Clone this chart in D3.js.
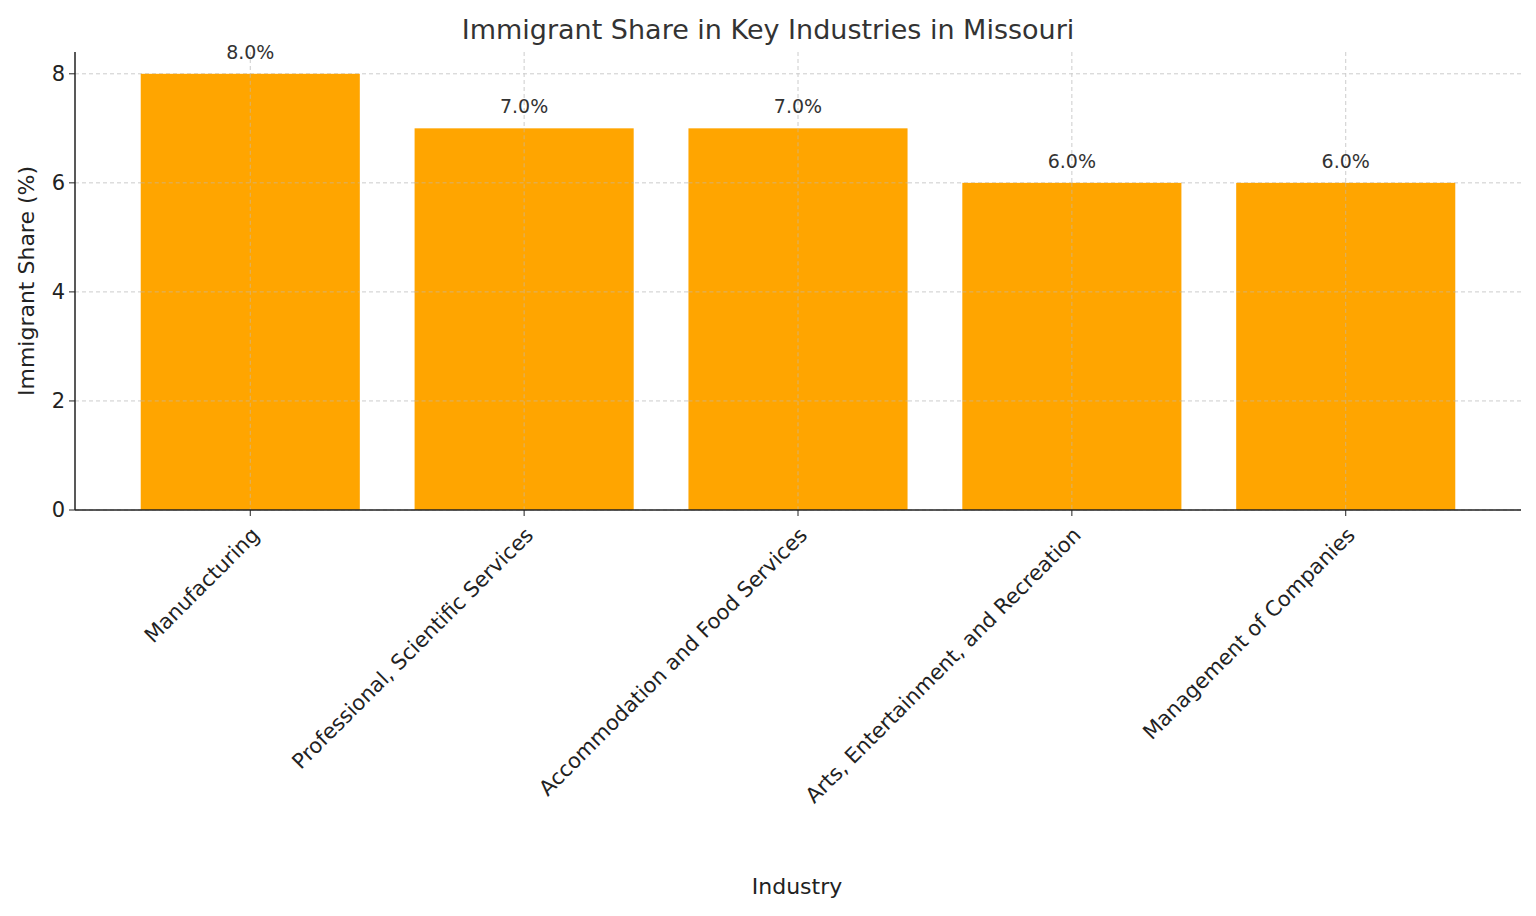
<!DOCTYPE html>
<html><head><meta charset="utf-8">
<script src="https://cdn.jsdelivr.net/npm/d3@7"></script>
<style>body{margin:0;background:#fff}text{font-family:"DejaVu Sans",sans-serif}</style>
</head><body><svg id="c" width="1536" height="916"></svg>
<script>
const categories=["Manufacturing","Professional, Scientific Services","Accommodation and Food Services","Arts, Entertainment, and Recreation","Management of Companies"];
const values=[8,7,7,6,6];
const yTicks=[0,2,4,6,8];
const svg=d3.select("#c");
const L=75,R=1521,T=52,B=510;
const x=d3.scaleLinear().domain([-0.64,4.64]).range([L,R]);
const y=d3.scaleLinear().domain([0,8.4]).range([B,T]);
const bw=x(0.8)-x(0);
const g=svg.append("g");
// grid
yTicks.forEach(t=>g.append("line").attr("x1",L).attr("x2",R).attr("y1",y(t)).attr("y2",y(t)).attr("stroke","#ccc").attr("stroke-dasharray","4,3"));
categories.forEach((c,i)=>g.append("line").attr("x1",x(i)).attr("x2",x(i)).attr("y1",T).attr("y2",B).attr("stroke","#ccc").attr("stroke-dasharray","4,3"));
// bars
g.selectAll("rect.b").data(values).join("rect").attr("x",(d,i)=>x(i)-bw/2).attr("width",bw).attr("y",d=>y(d)).attr("height",d=>B-y(d)).attr("fill","#FFA500");
// grid over bars (matplotlib draws grid above? reference shows grid over bars)
categories.forEach((c,i)=>g.append("line").attr("x1",x(i)).attr("x2",x(i)).attr("y1",y(values[i])).attr("y2",B).attr("stroke","#bbb").attr("stroke-opacity",0.6).attr("stroke-dasharray","4,3"));
yTicks.forEach(t=>{values.forEach((v,i)=>{if(t<v&&t>0)g.append("line").attr("x1",x(i)-bw/2).attr("x2",x(i)+bw/2).attr("y1",y(t)).attr("y2",y(t)).attr("stroke","#bbb").attr("stroke-opacity",0.6).attr("stroke-dasharray","4,3");});});
// value labels
g.selectAll("text.v").data(values).join("text").attr("x",(d,i)=>x(i)).attr("y",d=>y(d)-15).attr("text-anchor","middle").attr("font-size",19).attr("fill","#333").text(d=>d.toFixed(1)+"%");
// axes
svg.append("line").attr("x1",L).attr("x2",L).attr("y1",T).attr("y2",B).attr("stroke","#222").attr("stroke-width",1.5);
svg.append("line").attr("x1",L).attr("x2",R).attr("y1",B).attr("y2",B).attr("stroke","#222").attr("stroke-width",1.5);
yTicks.forEach(t=>{svg.append("line").attr("x1",L-6).attr("x2",L).attr("y1",y(t)).attr("y2",y(t)).attr("stroke","#222");
svg.append("text").attr("x",L-10).attr("y",y(t)+7).attr("text-anchor","end").attr("font-size",21).attr("fill","#222").text(t);});
categories.forEach((c,i)=>{svg.append("line").attr("x1",x(i)).attr("x2",x(i)).attr("y1",B).attr("y2",B+6).attr("stroke","#222");
svg.append("text").attr("transform",`translate(${x(i)},${B+16}) rotate(-45)`).attr("text-anchor","end").attr("dy","0.7em").attr("font-size",21).attr("fill","#222").text(c);});
svg.append("text").attr("x",768).attr("y",39).attr("text-anchor","middle").attr("font-size",27).attr("fill","#333").text("Immigrant Share in Key Industries in Missouri");
svg.append("text").attr("x",797).attr("y",894).attr("text-anchor","middle").attr("font-size",22).attr("fill","#222").text("Industry");
svg.append("text").attr("transform","translate(34,281) rotate(-90)").attr("text-anchor","middle").attr("font-size",22).attr("fill","#222").text("Immigrant Share (%)");
</script></body></html>
